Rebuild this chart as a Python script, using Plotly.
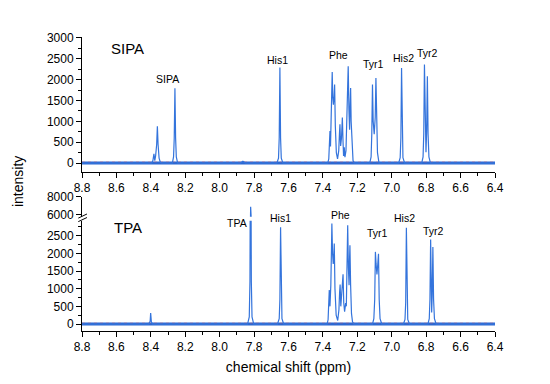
import plotly.graph_objects as go

# ---------------- data ----------------
# SIPA spectrum: chemical shift (ppm) and intensity
sipa_ppm = [8.80, 8.395, 8.388, 8.382, 8.377, 8.372, 8.366, 8.362, 8.358, 8.352, 8.345, 8.335,
            8.275, 8.268, 8.264, 8.260, 8.256, 8.252, 8.244,
            7.880, 7.865, 7.850,
            7.668, 7.658, 7.654, 7.650, 7.646, 7.642, 7.632,
            7.372, 7.366, 7.361, 7.359, 7.356, 7.352, 7.348, 7.346, 7.343, 7.339, 7.335, 7.332,
            7.328, 7.322, 7.315, 7.308, 7.304, 7.301, 7.297, 7.292, 7.289, 7.287, 7.283, 7.280,
            7.276, 7.272, 7.266, 7.260, 7.256, 7.253, 7.249, 7.245, 7.242, 7.239, 7.236, 7.231,
            7.225, 7.218,
            7.128, 7.120, 7.116, 7.112, 7.108, 7.102, 7.096, 7.092, 7.088, 7.083, 7.074,
            6.960, 6.951, 6.947, 6.943, 6.939, 6.935, 6.925,
            6.826, 6.818, 6.814, 6.810, 6.806, 6.801, 6.797, 6.793, 6.789, 6.784, 6.775,
            6.40]
sipa_int = [0, 0, 60, 220, 60, 180, 450, 880, 450, 120, 20, 0,
            0, 150, 600, 1790, 600, 150, 0,
            0, 45, 0,
            0, 120, 600, 2290, 600, 120, 0,
            0, 100, 500, 770, 400, 900, 1700, 2180, 1600, 1400, 1600, 1880,
            900, 250, 100, 300, 700, 930, 410, 600, 900, 1090, 500, 170,
            380, 140, 300, 1000, 1900, 2320, 1300, 800, 1400, 1800, 1000, 300,
            60, 0,
            0, 150, 700, 1880, 1000, 690, 1100, 2040, 900, 250, 0,
            0, 130, 600, 2280, 600, 130, 0,
            0, 150, 700, 2360, 800, 260, 800, 2080, 700, 150, 0,
            0]

# TPA spectrum
tpa_ppm = [8.80, 8.412, 8.404, 8.401, 8.397, 8.390,
           7.838, 7.828, 7.824, 7.820, 7.816, 7.812, 7.802,
           7.664, 7.654, 7.650, 7.646, 7.642, 7.638, 7.628,
           7.376, 7.370, 7.365, 7.363, 7.359, 7.354, 7.350, 7.348, 7.344, 7.340, 7.337, 7.334,
           7.330, 7.323, 7.314, 7.307, 7.303, 7.300, 7.296, 7.291, 7.286, 7.283, 7.279, 7.274,
           7.270, 7.268, 7.264, 7.260, 7.256, 7.252, 7.248, 7.246, 7.243, 7.239, 7.234, 7.228,
           7.220,
           7.112, 7.104, 7.099, 7.095, 7.091, 7.086, 7.081, 7.077, 7.073, 7.068, 7.058,
           6.932, 6.923, 6.919, 6.915, 6.911, 6.907, 6.897,
           6.790, 6.782, 6.778, 6.774, 6.771, 6.768, 6.765, 6.761, 6.757, 6.752, 6.742,
           6.40]
tpa_int = [0, 0, 80, 310, 60, 0,
           0, 200, 1200, 6900, 1200, 200, 0,
           0, 150, 700, 2740, 700, 150, 0,
           0, 120, 600, 960, 500, 1100, 2200, 2840, 2000, 1700, 1900, 2280,
           1000, 250, 100, 400, 900, 1120, 500, 800, 1200, 1410, 600, 350,
           500, 590, 500, 1500, 2790, 1600, 1100, 1700, 2230, 1100, 300, 60,
           0,
           0, 150, 700, 2040, 1700, 1400, 1700, 1990, 700, 150, 0,
           0, 130, 600, 2720, 600, 130, 0,
           0, 150, 700, 2390, 900, 330, 800, 2180, 700, 150, 0,
           0]

# peak labels for SIPA panel (text, ppm, intensity)
sipa_labels = ["SIPA", "His1", "Phe", "Tyr1", "His2", "Tyr2"]
sipa_label_ppm = [8.306, 7.665, 7.307, 7.107, 6.933, 6.791]
sipa_label_int = [2017, 2460, 2580, 2380, 2515, 2626]

# peak labels for TPA panel (text, ppm, vertical paper position)
tpa_labels = ["TPA", "His1", "Phe", "Tyr1", "His2", "Tyr2"]
tpa_label_ppm = [7.898, 7.646, 7.297, 7.084, 6.925, 6.759]
tpa_label_pos = [0.368, 0.386, 0.396, 0.306, 0.385, 0.340]

x_ticks = [8.8, 8.6, 8.4, 8.2, 8.0, 7.8, 7.6, 7.4, 7.2, 7.0, 6.8, 6.6, 6.4]

# ---------------- figure ----------------
FONT = "Arial, Liberation Sans, sans-serif"
LINE = "#3474dc"

fig = go.Figure()
fig.add_trace(go.Scatter(x=sipa_ppm, y=sipa_int, mode="lines", xaxis="x", yaxis="y",
                         line=dict(color=LINE, width=1.2), showlegend=False))
fig.add_trace(go.Scatter(x=tpa_ppm, y=tpa_int, mode="lines", xaxis="x2", yaxis="y2",
                         line=dict(color=LINE, width=1.2), showlegend=False))
fig.add_trace(go.Scatter(x=tpa_ppm, y=tpa_int, mode="lines", xaxis="x2", yaxis="y3",
                         line=dict(color=LINE, width=1.2), showlegend=False))

common_x = dict(range=[8.8, 6.4], tickvals=x_ticks, ticktext=[f"{v:.1f}" for v in x_ticks],
                ticks="outside", ticklen=5, tickwidth=1, tickcolor="black",
                minor=dict(dtick=0.1, tick0=8.8, ticks="outside", ticklen=3, tickcolor="black"),
                showline=True, linecolor="black", linewidth=1, showgrid=False, zeroline=False,
                tickfont=dict(family=FONT, size=12, color="black"))
common_y = dict(ticks="outside", ticklen=5, tickwidth=1, tickcolor="black",
                showline=True, linecolor="black", linewidth=1, showgrid=False, zeroline=False,
                tickfont=dict(family=FONT, size=12, color="black"))

fig.update_layout(
    width=550, height=384,
    margin=dict(l=82, r=55, t=37, b=51),
    paper_bgcolor="white", plot_bgcolor="white",
    font=dict(family=FONT, color="black"),
    xaxis=dict(domain=[0, 1], anchor="y", **common_x),
    yaxis=dict(domain=[0.5405, 1], anchor="x", range=[-215, 3020], dtick=500, tick0=0,
               minor=dict(dtick=250, ticks="outside", ticklen=3, tickcolor="black"), **common_y),
    xaxis2=dict(domain=[0, 1], anchor="y2",
                title=dict(text="chemical shift (ppm)", font=dict(family=FONT, size=14), standoff=8),
                **common_x),
    yaxis2=dict(domain=[0, 0.375], anchor="x2", range=[-197, 2921], dtick=500, tick0=0,
                minor=dict(dtick=250, ticks="outside", ticklen=3, tickcolor="black"), **common_y),
    yaxis3=dict(domain=[0.3885, 0.4561], anchor="x2", range=[5778, 8000], tickvals=[6000, 8000],
                **common_y),
)

# noisy baseline band
for yref, xref in [("y", "x domain"), ("y2", "x2 domain")]:
    fig.add_shape(type="line", xref=xref, yref=yref, x0=0, x1=1, y0=0, y1=0,
                  line=dict(color="#2d68d2", width=3), layer="below")
    fig.add_shape(type="line", xref=xref, yref=yref, x0=0, x1=1, y0=30, y1=30,
                  line=dict(color="rgba(230,90,90,0.35)", width=1, dash="dot"), layer="below")

# axis break marks
for dy in (0.0, 0.012):
    fig.add_shape(type="line", xref="paper", yref="paper",
                  x0=-0.009, x1=0.012, y0=0.372 + dy, y1=0.386 + dy,
                  line=dict(color="black", width=1))

# panel titles
fig.add_annotation(x=8.538, y=2740, xref="x", yref="y", text="SIPA", showarrow=False,
                   font=dict(family=FONT, size=15))
fig.add_annotation(x=8.533, y=2725, xref="x2", yref="y2", text="TPA", showarrow=False,
                   font=dict(family=FONT, size=15))

for t, px, py in zip(sipa_labels, sipa_label_ppm, sipa_label_int):
    fig.add_annotation(x=px, y=py, xref="x", yref="y", text=t, showarrow=False,
                       font=dict(family=FONT, size=10.5))
for t, px, py in zip(tpa_labels, tpa_label_ppm, tpa_label_pos):
    fig.add_annotation(x=px, y=py, xref="x2", yref="paper", text=t, showarrow=False,
                       font=dict(family=FONT, size=10.5))

# y-axis title
fig.add_annotation(x=-0.155, y=0.51, xref="paper", yref="paper", text="intensity",
                   xanchor="center", yanchor="middle",
                   textangle=-90, showarrow=False, font=dict(family=FONT, size=14))

fig.write_html("out.html", config={"displayModeBar": False},
               post_script="document.body.style.margin='0';")
